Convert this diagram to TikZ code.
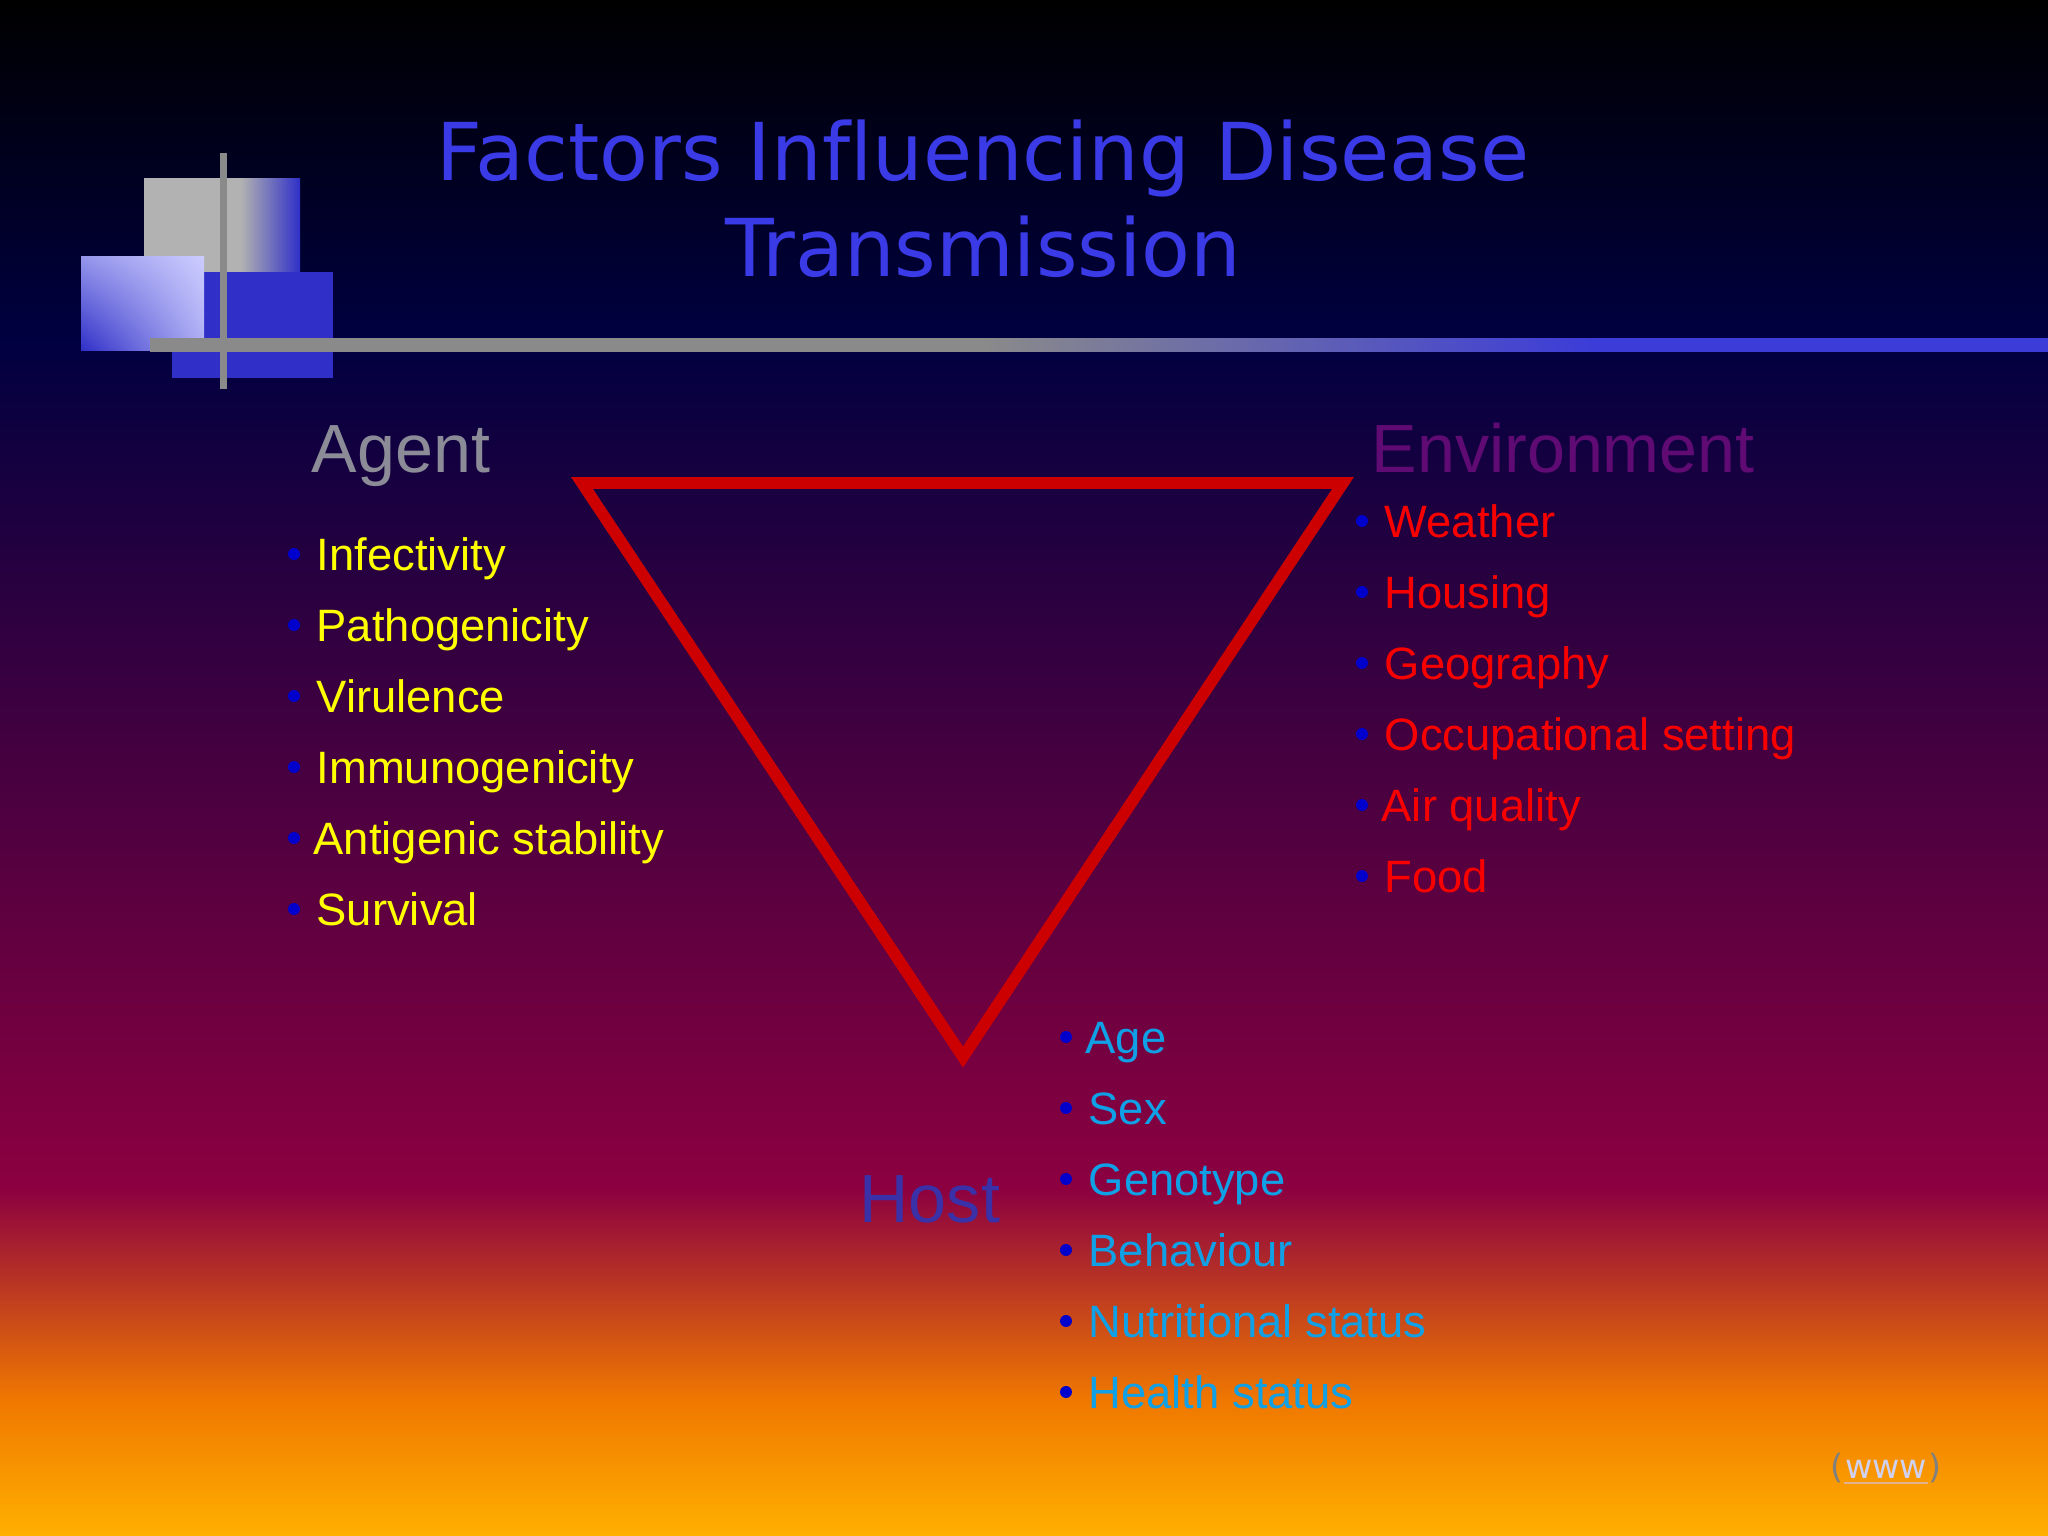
\documentclass[tikz,border=0pt]{standalone}
\usepackage{fontspec}
\setmainfont{Liberation Sans}
\newfontfamily\titlefont[Ligatures=NoCommon]{DejaVu Sans}
\usetikzlibrary{calc,shadings}
\definecolor{titleblue}{HTML}{3A3AE6}
\definecolor{boxblue}{HTML}{3030C8}
\definecolor{barBlue}{HTML}{3C3CD8}
\definecolor{greybar}{HTML}{8A8A8A}
\definecolor{lightgrey}{HTML}{B2B2B2}
\definecolor{lilac}{HTML}{CCCCFF}
\definecolor{bulletblue}{HTML}{0000CC}
\definecolor{agentgrey}{HTML}{8C8C98}
\definecolor{envpurple}{HTML}{600A74}
\definecolor{hostblue}{HTML}{3A30A8}
\definecolor{triRed}{HTML}{CC0000}
\definecolor{itemyellow}{HTML}{FFFF00}
\definecolor{itemred}{HTML}{F80000}
\definecolor{itemcyan}{HTML}{10A0E6}
\definecolor{wwwgrey}{HTML}{808080}
\definecolor{wwwlilac}{HTML}{D0D0F0}
\definecolor{bgA}{HTML}{FFB000}
\definecolor{bgB}{HTML}{F07800}
\definecolor{bgC}{HTML}{8C0040}
\definecolor{bgD}{HTML}{000040}
\definecolor{bgE}{HTML}{000000}
\pgfdeclareverticalshading{slidebg}{100bp}{
 color(0bp)=(bgA);
 color(25bp)=(bgA);
 color(29.4bp)=(bgB);
 color(36.3bp)=(bgC);
 color(64bp)=(bgD);
 color(75bp)=(bgE);
 color(100bp)=(bgE)}
\pgfdeclarehorizontalshading{barfade}{100bp}{
 color(0bp)=(greybar);
 color(47bp)=(greybar);
 color(63bp)=(barBlue);
 color(100bp)=(barBlue)}
\pgfdeclarehorizontalshading{boxfade}{100bp}{
 color(0bp)=(lightgrey);
 color(56bp)=(lightgrey);
 color(75bp)=(boxblue);
 color(100bp)=(boxblue)}
\tikzset{
 x=0.01cm,y=-0.01cm,
 itemtext/.style={anchor=base west,inner sep=0pt,font=\fontsize{12.9pt}{15pt}\selectfont},
 headtext/.style={anchor=base west,inner sep=0pt,font=\fontsize{19.4pt}{22pt}\selectfont},
 titletext/.style={inner sep=0pt,anchor=base,text=titleblue,font=\titlefont\fontsize{22.7pt}{27pt}\selectfont},
 wwwtext/.style={inner sep=0pt,anchor=base west,font=\titlefont\fontsize{9.5pt}{11pt}\selectfont},
 bulletdot/.style={circle,fill=bulletblue,draw=none,inner sep=0pt,minimum size=3.4pt},
 triangleline/.style={draw=triRed,line width=3.3pt,line join=miter},
}
\newcommand{\itemrow}[5]{% name, bullet x, text x, baseline y, text
 \node[bulletdot] (#1b) at (#2,#4-16) {};
 \node[itemtext] (#1) at (#3,#4) {#5};
}
\begin{document}
\begin{tikzpicture}
\useasboundingbox (0,0) rectangle (2048,1536);
\shade[shading=slidebg] (0,0) rectangle (2048,1536);
% decorative squares
\shade[shading=boxfade] (144,178) rectangle (300,272);
\fill[boxblue] (172,272) rectangle (333,378);
\shade[lower left=boxblue,upper right=lilac,upper left=lilac!65!boxblue,lower right=lilac!80!boxblue] (81,256) rectangle (204,350);
\shade[shading=barfade] (150,338) rectangle (2048,351);
\fill[greybar] (220,153) rectangle (227,389);
% title
\node[titletext] (title1) at (983,180) {Factors Influencing Disease};
\node[titletext] (title2) at (983,276) {Transmission};
% triangle
\coordinate (tl) at (582,483);
\coordinate (tr) at (1343,483);
\coordinate (tb) at (963,1057);
\draw[triangleline] (tl) -- (tr) -- (tb) -- cycle;
% heads
\node[headtext,text=agentgrey] (agent) at (311,472) {Agent};
\node[headtext,text=envpurple] (env) at (1371,472) {Environment};
\node[headtext,text=hostblue] (host) at (859,1222) {Host};
% agent items
\begin{scope}[every node/.append style={text=itemyellow}]
\itemrow{a1}{294}{316}{570}{Infectivity}
\itemrow{a2}{294}{316}{641}{Pathogenicity}
\itemrow{a3}{294}{316}{712}{Virulence}
\itemrow{a4}{294}{316}{783}{Immunogenicity}
\itemrow{a5}{294}{313}{854}{Antigenic stability}
\itemrow{a6}{294}{316}{925}{Survival}
\end{scope}
% environment items
\begin{scope}[every node/.append style={text=itemred}]
\itemrow{e1}{1362}{1384}{537}{Weather}
\itemrow{e2}{1362}{1384}{608}{Housing}
\itemrow{e3}{1362}{1384}{679}{Geography}
\itemrow{e4}{1362}{1384}{750}{Occupational setting}
\itemrow{e5}{1362}{1381}{821}{Air quality}
\itemrow{e6}{1362}{1384}{892}{Food}
\end{scope}
% host items
\begin{scope}[every node/.append style={text=itemcyan}]
\itemrow{h1}{1066}{1085}{1053}{Age}
\itemrow{h2}{1066}{1088}{1124}{Sex}
\itemrow{h3}{1066}{1088}{1195}{Genotype}
\itemrow{h4}{1066}{1088}{1266}{Behaviour}
\itemrow{h5}{1066}{1088}{1337}{Nutritional status}
\itemrow{h6}{1066}{1088}{1408}{Health status}
\end{scope}
% www
\node[wwwtext,text=wwwgrey] (lp) at (1830,1478) {(};
\node[wwwtext,text=wwwlilac] (www) at (lp.base east) {www};
\node[wwwtext,text=wwwgrey] (rp) at (www.base east) {)};
\draw[wwwlilac!60!orange,line width=0.6pt] ($(www.base west)+(0,5)$) -- ($(www.base east)+(0,5)$);
\end{tikzpicture}
\end{document}
